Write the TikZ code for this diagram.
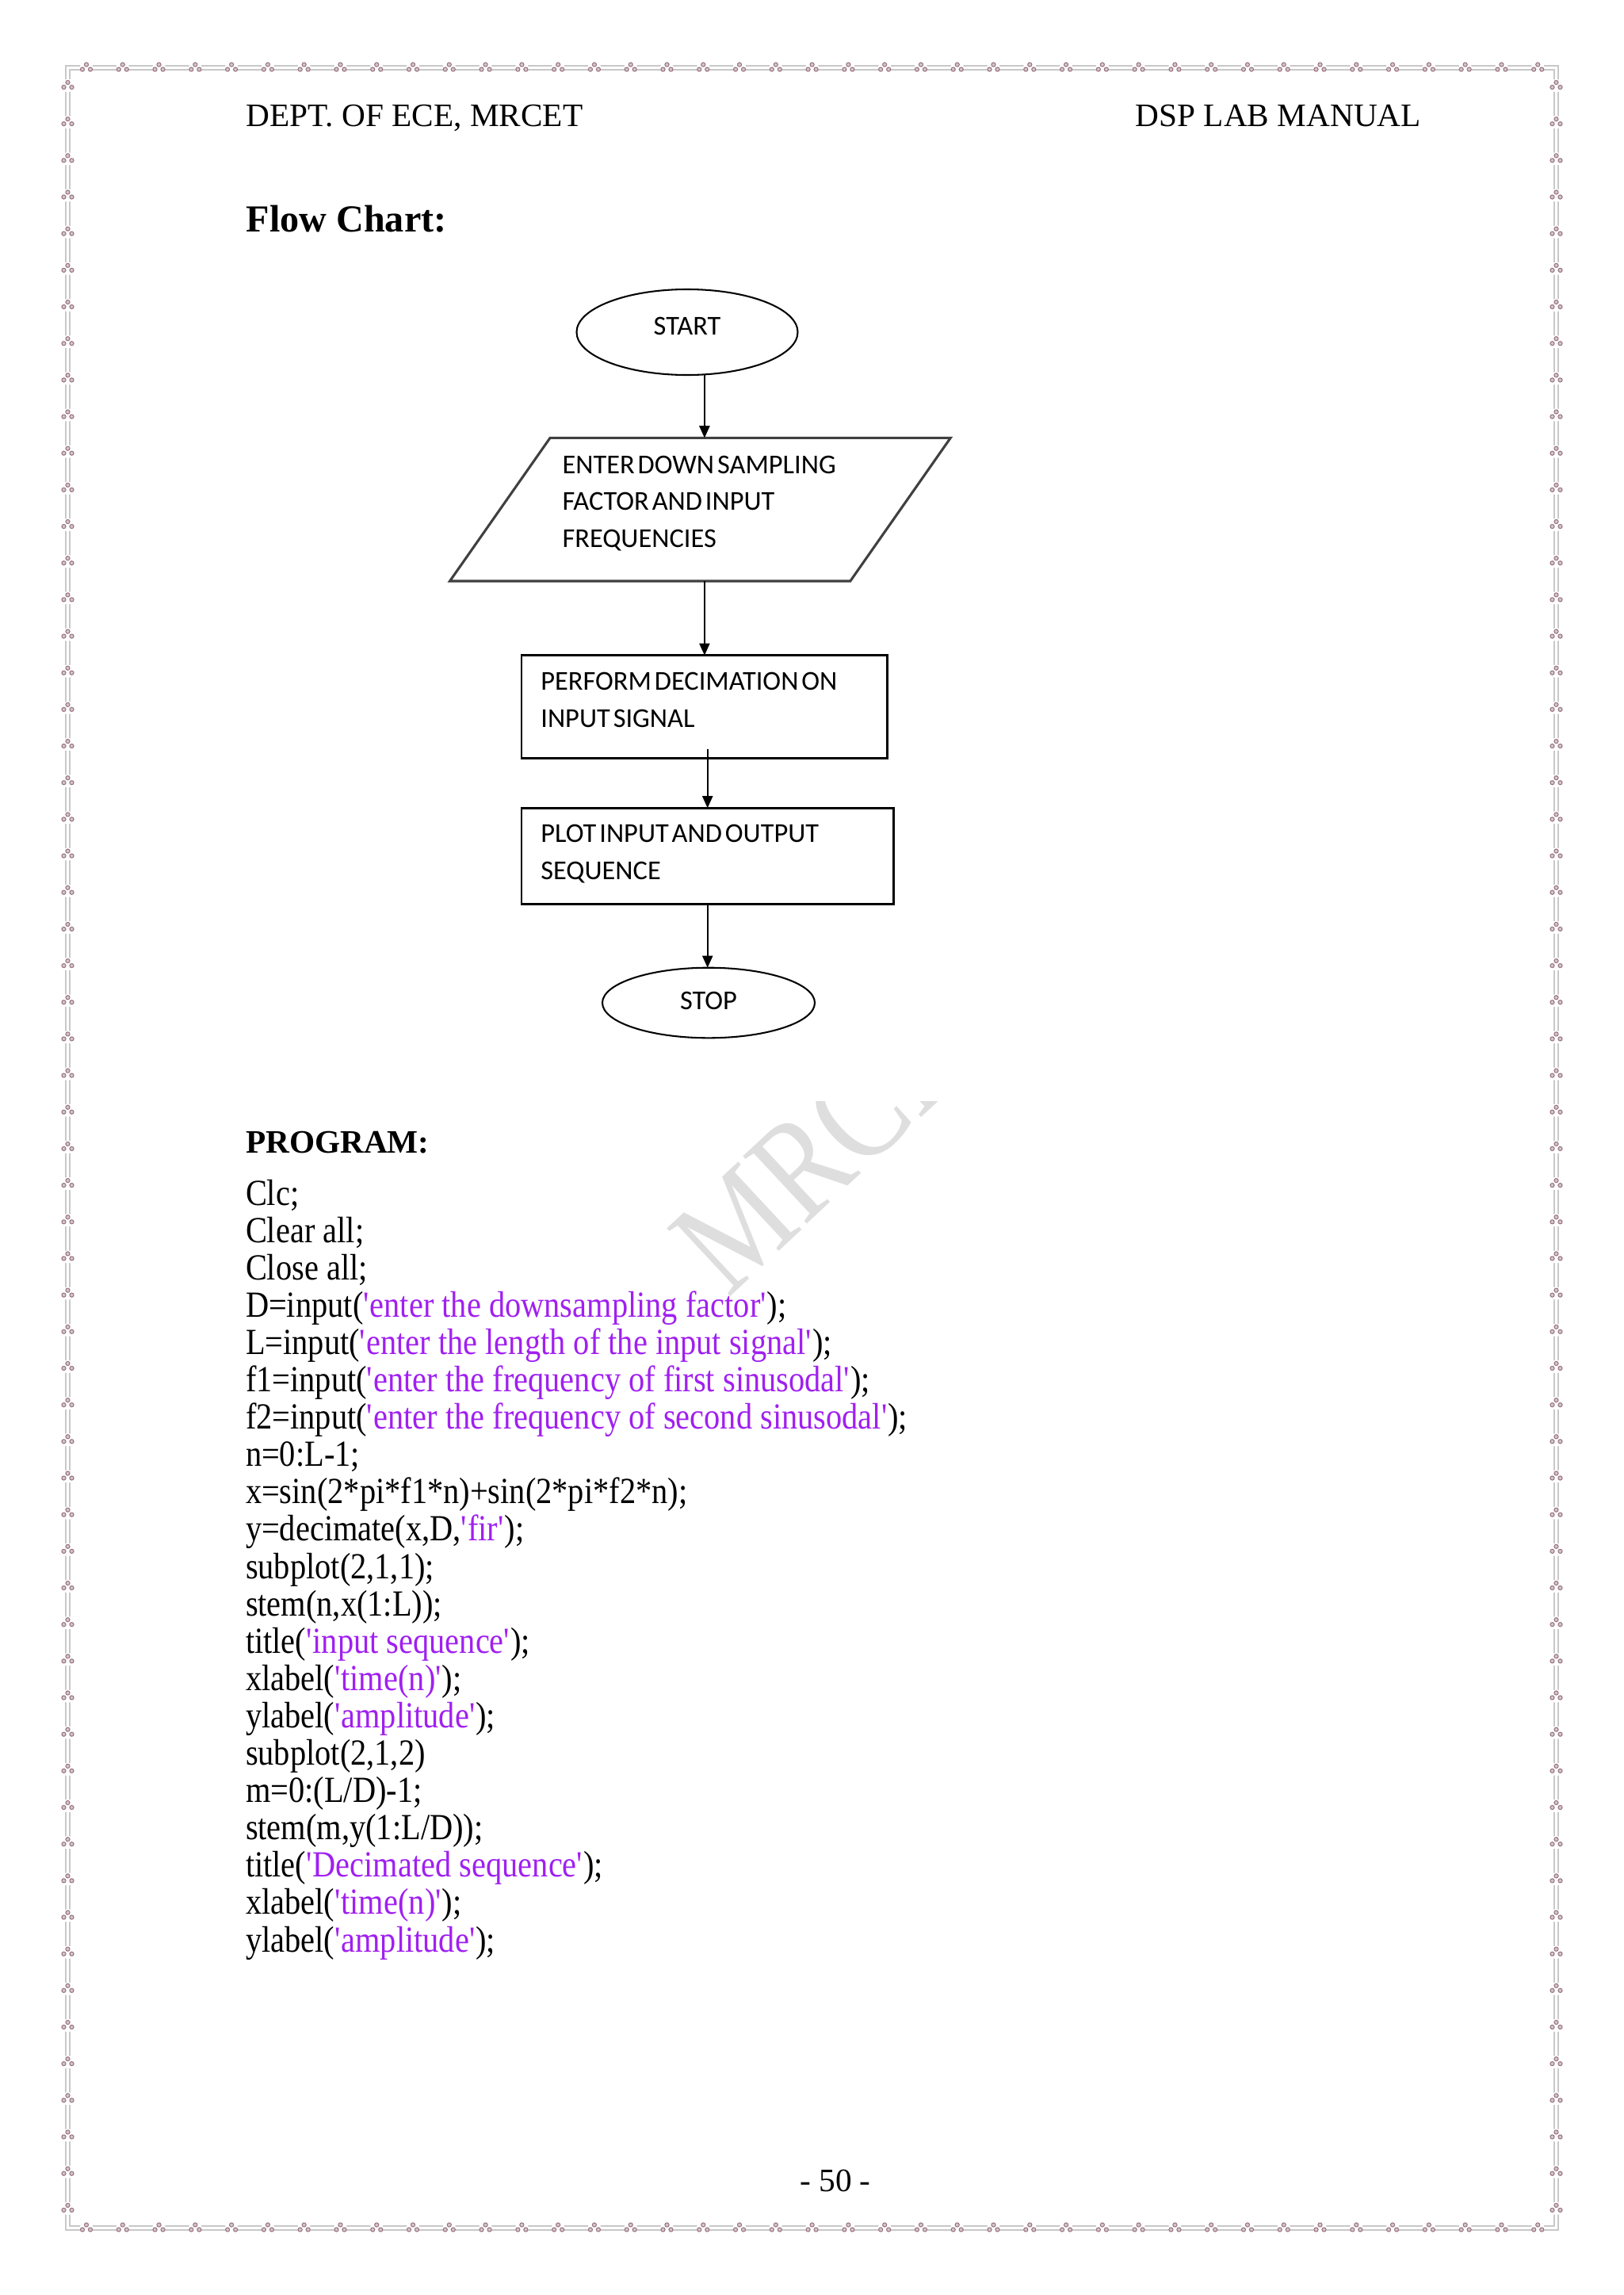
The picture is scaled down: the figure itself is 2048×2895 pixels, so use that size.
\documentclass[tikz,border=0pt]{standalone}
\usepackage{fontspec}
\setmainfont{Liberation Serif}
\newfontfamily\fcfont{Carlito}[WordSpace=0.5]
\newfontfamily\codefont{Liberation Serif}[FakeStretch=0.87]
\newfontfamily\markfont{Liberation Serif}[FakeStretch=0.83]
\usetikzlibrary{positioning,shapes.geometric,arrows.meta}
\definecolor{strpurple}{HTML}{A020F0}
\definecolor{framegray}{HTML}{C8C8C8}
\definecolor{dotedge}{HTML}{9A7480}
\definecolor{dotfill}{HTML}{D2C6CA}
\newcommand{\str}[1]{\textcolor{strpurple}{\textquotesingle#1\textquotesingle}}
\tikzset{
  dotcluster/.pic={
    \fill[white] (0,0) circle (2.4pt);
    \foreach \dx/\dy in {0/-4,-5/2,5/2}
      \draw[dotedge, fill=dotfill, line width=0.3pt] (\dx,\dy) circle (0.75pt);
  }
}
\begin{document}
\begin{tikzpicture}[x=0.290662pt, y=-0.290662pt,
  every node/.style={inner sep=0pt, outer sep=0pt},
  termshape/.style={draw, ellipse, line width=0.6pt, font=\fcfont\fontsize{10}{13.5}\selectfont, text height=6.32pt},
  ioshape/.style={draw=black!75, trapezium, trapezium left angle=55, trapezium right angle=125, inner xsep=55.05pt, inner ysep=26.25pt, line width=0.9pt},
  procbox/.style={draw, rectangle, line width=0.8pt},
  fctext/.style={align=left, font=\fcfont\fontsize{10}{13.5}\selectfont},
  arr/.style={-{Triangle[length=4.4pt,width=3.8pt]}, line width=0.6pt},
  pageframe/.style={draw=framegray, line width=0.5pt},
  pagetext/.style={font=\fontsize{12}{14}\selectfont},
  codeline/.style={anchor=base west, font=\codefont\fontsize{13.5}{15}\selectfont},
  watermark/.style={text=black!13, font=\markfont\fontsize{52}{58}\selectfont}
]
\fill[white] (0,0) rectangle (2048,2895);
\useasboundingbox (0,0) rectangle (2048,2895);

\draw[pageframe] (83,83) rectangle (1966,2813);
\draw[pageframe] (88,88) rectangle (1961,2808);
\foreach \i in {0,...,40} {
  \pic at ({109+45.78*\i},85.5) {dotcluster};
  \pic at ({109+45.78*\i},2810.5) {dotcluster};
}
\foreach \i in {0,...,58} {
  \pic at (85.5,{108+46.17*\i}) {dotcluster};
  \pic at (1963.5,{108+46.17*\i}) {dotcluster};
}

\node[pagetext, anchor=base west] (dept) at (310.7,159.3) {DEPT. OF ECE, MRCET};
\node[pagetext, anchor=base east] (manual) at (1793,159.3) {DSP LAB MANUAL};
\node[anchor=base west, font=\fontsize{14}{16}\selectfont\bfseries] (fctitle) at (310.7,292.7) {Flow Chart:};

\node[termshape, minimum width=81.1pt, minimum height=31.4pt, text depth=4.38pt] (start) at (867,419) {START};
\node[ioshape] (pgram) at (883.4,642.7) {};
\node[fctext, below right=6.6pt and 4.53pt of pgram.top left corner] (pgramtxt) {ENTER DOWN SAMPLING\\FACTOR AND INPUT\\FREQUENCIES};
\node[procbox, minimum width=134.2pt, minimum height=37.8pt] (decim) at (888.9,891.7) {};
\node[fctext, below right=6.28pt and 7.06pt of decim.north west] (decimtxt) {PERFORM DECIMATION ON\\INPUT SIGNAL};
\node[procbox, minimum width=136.4pt, minimum height=35.3pt] (plot) at (892.7,1080) {};
\node[fctext, below right=6.1pt and 7.06pt of plot.north west] (plottxt) {PLOT INPUT AND OUTPUT\\SEQUENCE};
\node[termshape, minimum width=77.9pt, minimum height=25.75pt, text depth=1.48pt] (stop) at (894,1265) {STOP};

\coordinate (decimout) at ([yshift=3.4pt]decim.south);
\draw[arr] (start.south -| decim.north) -- (pgram.north -| decim.north);
\draw[arr] (pgram.south -| decim.north) -- (decim.north);
\draw[arr] (decimout -| plot.north) -- (plot.north);
\draw[arr] (plot.south) -- (plot.south |- stop.north);

\begin{scope}
\clip (0,1389) rectangle (2048,2895);
\node[watermark, rotate=43, anchor=base west] (wmark) at (918,1638) {MRCET};
\end{scope}

\node[anchor=base west, font=\fontsize{12}{14}\selectfont\bfseries] (progtitle) at (310,1454) {PROGRAM:};
\foreach \txt [count=\i from 0] in {
  {Clc;},
  {Clear all;},
  {Close all;},
  {D=input(\str{enter the downsampling factor});},
  {L=input(\str{enter the length of the input signal});},
  {f1=input(\str{enter the frequency of first sinusodal});},
  {f2=input(\str{enter the frequency of second sinusodal});},
  {n=0:L-1;},
  {x=sin(2*pi*f1*n)+sin(2*pi*f2*n);},
  {y=decimate(x,D,\str{fir});},
  {subplot(2,1,1);},
  {stem(n,x(1:L));},
  {title(\str{input sequence});},
  {xlabel(\str{time(n)});},
  {ylabel(\str{amplitude});},
  {subplot(2,1,2)},
  {m=0:(L/D)-1;},
  {stem(m,y(1:L/D));},
  {title(\str{Decimated sequence});},
  {xlabel(\str{time(n)});},
  {ylabel(\str{amplitude});}}
  \node[codeline] (line\i) at (310,1520+47.1*\i) {\txt};

\node[pagetext, anchor=base] (pagenum) at (1054,2764) {- 50 -};
\end{tikzpicture}
\end{document}
